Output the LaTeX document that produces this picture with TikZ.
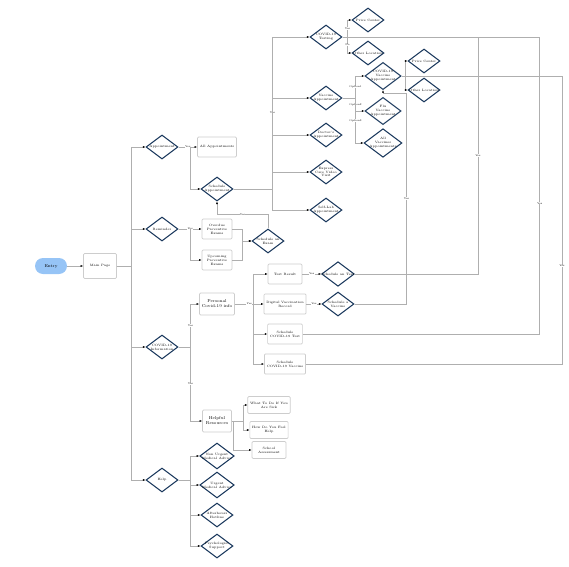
\documentclass[tikz,border=0pt]{standalone}
\usepackage{xcolor}
\usepackage{tikz}
\usetikzlibrary{shapes.geometric,arrows.meta}
\definecolor{navy}{RGB}{28,58,94}
\definecolor{entryblue}{RGB}{150,196,246}
\definecolor{linegray}{RGB}{175,175,175}
\definecolor{boxgray}{RGB}{205,205,205}

\begin{document}
\begin{tikzpicture}[x=0.05cm,y=-0.05cm,
                decision/.style={diamond,draw=navy,line width=1.5pt,fill=white,shape aspect=1.33,inner sep=-1pt,minimum width=1.6cm,minimum height=1.2cm,align=center,font=\fontsize{4.6}{5.5}\selectfont},
                page/.style={draw=boxgray,line width=1pt,fill=white,rounded corners=1.5pt,minimum width=1.5cm,minimum height=1cm,align=center,font=\fontsize{4.6}{5.8}\selectfont},
                wide/.style={page,minimum width=1.7cm},
                big/.style={page,minimum width=1.45cm,minimum height=1.1cm,font=\fontsize{6}{7}\selectfont},
                entry/.style={fill=entryblue,rounded corners=0.4cm,minimum width=1.6cm,minimum height=0.8cm,font=\fontsize{6}{7}\selectfont},
                wire/.style={draw=linegray,line width=0.9pt},
                link/.style={wire,-{Latex[length=3.6pt,width=3pt,color=black]}},
                yes/.style={fill=white,inner sep=0.4pt,font=\fontsize{3.6}{4}\selectfont}]
                \useasboundingbox (0,0) rectangle (569,566);
                % Entry and main page
                \node[entry] (entry) at (51,266) {Entry};
                \node[page,minimum width=1.65cm,minimum height=1.25cm] (main) at (100,266) {Main Page};
                % First level decisions
                \node[decision] (appt) at (162,147) {Appointment};
                \node[decision] (remind) at (162,229) {Reminder};
                \node[decision] (covinfo) at (162,347) {COVID-19\\Information};
                \node[decision] (help) at (162,480) {Help};
                % Appointment branch
                \node[page] (allappt) at (217,147) {All Appointments};
                \node[decision] (schedappt) at (217,189) {Schedule\\Appointment};
                \node[decision] (covtest) at (326,37) {COVID-19\\Testing};
                \node[decision] (vaccappt) at (326,98) {Vaccine\\Appointment};
                \node[decision] (doctor) at (326,135) {Doctor's\\Appointment};
                \node[decision] (express) at (326,172) {Express\\Care Video\\Visit};
                \node[decision] (selflab) at (326,210) {Self-Lab\\Appointment};
                \node[decision] (price1) at (368,20) {Price Center};
                \node[decision] (other1) at (368,53) {Other Location};
                \node[decision] (covvacc) at (383,76) {COVID-19\\Vaccine\\Appointment};
                \node[decision] (flu) at (383,111) {Flu\\Vaccine\\Appointment};
                \node[decision] (allvacc) at (383,143) {All\\Vaccines\\Appointments};
                \node[decision] (price2) at (424,61) {Price Center};
                \node[decision] (other2) at (424,90) {Other Location};
                % Reminder branch
                \node[page] (overdue) at (217,229) {Overdue\\Preventive\\Exams};
                \node[page] (upcoming) at (217,260) {Upcoming\\Preventive\\Exams};
                \node[decision] (schedexam) at (268,241) {Schedule an\\Exam};
                % COVID-19 information branch
                \node[big] (personal) at (217,304) {Personal\\Covid-19 info};
                \node[big] (helpful) at (217,421) {Helpful\\Resources};
                \node[wide] (testres) at (285,274) {Test Result};
                \node[wide] (digital) at (285,304) {Digital Vaccination\\Record};
                \node[wide] (schedtest) at (285,334) {Schedule\\COVID-19 Test};
                \node[wide] (schedvacc) at (285,364) {Schedule\\COVID-19 Vaccine};
                \node[decision] (schedantest) at (338,274) {Schedule an Test};
                \node[decision] (schedavacc) at (338,304) {Schedule a\\Vaccine};
                \node[wide,minimum height=0.85cm] (sick) at (269,405) {What To Do If You\\Are Sick};
                \node[wide,minimum height=0.85cm] (feel) at (269,430) {How Do You Feel\\Help};
                \node[wide,minimum height=0.85cm] (school) at (269,450) {School\\Assessment};
                % Help branch
                \node[decision] (nonurgent) at (217,456) {Non Urgent\\Medical Advice};
                \node[decision] (urgent) at (217,485) {Urgent\\Medical Advice};
                \node[decision] (hotline) at (217,515) {Afterhours\\Hotline};
                \node[decision] (psych) at (217,546) {Psychologist\\Support};
                % Connectors from the main page
                \draw[link] (entry) -- (main);
                \foreach \n in {appt,remind,covinfo,help}
                    \draw[link] (main.east) -- ++(14,0) |- (\n.west);
                % Appointment connectors
                \draw[link] (appt.east) -- node[yes]{Yes} (allappt.west);
                \draw[link] (appt.east) ++(12,0) |- (schedappt.west);
                \draw[wire] (schedappt.east) -- ++(39,0) coordinate (abus);
                \draw[link] (abus) |- node[yes,pos=0.25]{Yes} (covtest.west);
                \foreach \n in {vaccappt,doctor,express,selflab}
                    \draw[link] (abus) |- (\n.west);
                \draw[link] (covtest.east) -- ++(5,0) |- node[yes,pos=0.25]{Yes} (price1.west);
                \draw[link] (covtest.east) ++(5,0) |- node[yes,pos=0.25]{No} (other1.west);
                \draw[link] (vaccappt.east) -- ++(13,0) |- node[yes,pos=0.25]{Option1} (covvacc.west);
                \draw[link] (vaccappt.east) ++(13,0) |- node[yes,pos=0.25]{Option2} (flu.west);
                \draw[link] (vaccappt.east) ++(13,0) |- node[yes,pos=0.25]{Option3} (allvacc.west);
                \draw[link] (covvacc.east) -- ++(4,0) |- (price2.west);
                \draw[link] (covvacc.east) ++(4,0) |- (other2.west);
                % Reminder connectors
                \draw[link] (remind.east) -- node[yes]{Yes} (overdue.west);
                \draw[link] (remind.east) ++(12,0) |- (upcoming.west);
                \draw[link] (overdue.east) -- ++(10,0) |- (schedexam.west);
                \draw[link] (upcoming.east) -- ++(10,0) |- (schedexam.west);
                \draw[link] (schedexam.north) -- ++(0,-14) -| node[yes,pos=0.25]{Yes} (schedappt.south);
                % COVID-19 information connectors
                \draw[link] (covinfo.east) -- ++(12,0) |- node[yes,pos=0.25]{Yes} (personal.west);
                \draw[link] (covinfo.east) ++(12,0) |- node[yes,pos=0.25]{Yes} (helpful.west);
                \draw[wire] (personal.east) -- node[yes,pos=0.8]{Yes} ++(18,0) coordinate (pbus);
                \foreach \n in {testres,digital,schedtest,schedvacc}
                    \draw[link] (pbus) |- (\n.west);
                \draw[link] (testres.east) -- node[yes]{Yes} (schedantest.west);
                \draw[link] (digital.east) -- node[yes]{Yes} (schedavacc.west);
                \draw[link] (helpful.east) -- ++(11,0) |- (sick.west);
                \draw[link] (helpful.east) ++(11,0) |- (feel.west);
                \draw[link] (helpful.east) -- ++(1,0) |- (school.west);
                % Help connectors
                \foreach \n in {nonurgent,urgent,hotline,psych}
                    \draw[link] (help.east) -- ++(12,0) |- (\n.west);
                % Return loops
                \draw[wire] (schedantest.east) -- ++(123,0) |- node[yes,pos=0.25]{Yes} (covtest.east);
                \draw[wire] (schedtest.east) -- ++(237,0) |- node[yes,pos=0.22]{Yes} (covtest.east);
                \draw[link] (schedavacc.east) -| node[yes,pos=0.75]{Yes} ++(52,-211) -| (covvacc.south);
                \draw[wire] (schedvacc.east) -- ++(256,0) |- node[yes,pos=0.17]{Yes} (covvacc.east);
            \end{tikzpicture}
\end{document}
